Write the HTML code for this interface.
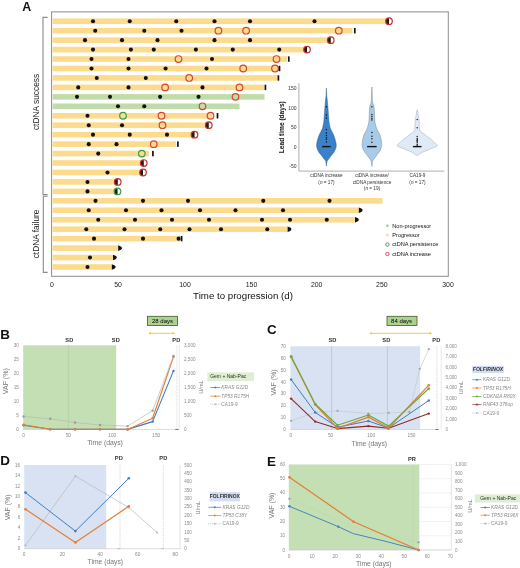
<!DOCTYPE html>
<html><head><meta charset="utf-8"><style>html,body{margin:0;padding:0;background:#fff;width:520px;height:568px;overflow:hidden;font-family:"Liberation Sans", sans-serif;}</style></head><body>
<svg width="520" height="568" viewBox="0 0 520 568" style="position:absolute;left:0;top:0;will-change:transform" font-family='"Liberation Sans", sans-serif'>
<rect x="0" y="0" width="520" height="568" fill="#fff"/>
<text x="22.3" y="11.2" font-size="12.4" font-weight="bold" fill="#111">A</text>
<rect x="51.6" y="11.9" width="396.7" height="264.4" fill="none" stroke="#8c8c8c" stroke-width="1"/>
<rect x="52.6" y="18.45" width="336.40" height="5.6" fill="#fcdb8c"/>
<rect x="52.6" y="27.90" width="299.90" height="5.6" fill="#fcdb8c"/>
<rect x="52.6" y="37.35" width="278.15" height="5.6" fill="#fcdb8c"/>
<rect x="52.6" y="46.81" width="254.40" height="5.6" fill="#fcdb8c"/>
<rect x="52.6" y="56.26" width="234.40" height="5.6" fill="#fcdb8c"/>
<rect x="52.6" y="65.71" width="225.40" height="5.6" fill="#fcdb8c"/>
<rect x="52.6" y="75.16" width="224.70" height="5.6" fill="#fcdb8c"/>
<rect x="52.6" y="84.61" width="211.40" height="5.6" fill="#fcdb8c"/>
<rect x="52.6" y="94.07" width="211.90" height="5.6" fill="#c0dcaa"/>
<rect x="52.6" y="103.52" width="186.90" height="5.6" fill="#c0dcaa"/>
<rect x="52.6" y="112.97" width="159.90" height="5.6" fill="#fcdb8c"/>
<rect x="52.6" y="122.42" width="156.15" height="5.6" fill="#fcdb8c"/>
<rect x="52.6" y="131.87" width="141.90" height="5.6" fill="#fcdb8c"/>
<rect x="52.6" y="141.33" width="123.40" height="5.6" fill="#fcdb8c"/>
<rect x="52.6" y="150.78" width="96.40" height="5.6" fill="#fcdb8c"/>
<rect x="52.6" y="160.23" width="91.15" height="5.6" fill="#fcdb8c"/>
<rect x="52.6" y="169.68" width="90.40" height="5.6" fill="#fcdb8c"/>
<rect x="52.6" y="179.13" width="65.15" height="5.6" fill="#fcdb8c"/>
<rect x="52.6" y="188.59" width="64.90" height="5.6" fill="#fcdb8c"/>
<rect x="52.6" y="198.04" width="329.90" height="5.6" fill="#fcdb8c"/>
<rect x="52.6" y="207.49" width="306.20" height="5.6" fill="#fcdb8c"/>
<rect x="52.6" y="216.94" width="302.40" height="5.6" fill="#fcdb8c"/>
<rect x="52.6" y="226.39" width="235.00" height="5.6" fill="#fcdb8c"/>
<rect x="52.6" y="235.85" width="127.40" height="5.6" fill="#fcdb8c"/>
<rect x="52.6" y="245.30" width="65.60" height="5.6" fill="#fcdb8c"/>
<rect x="52.6" y="254.75" width="60.40" height="5.6" fill="#fcdb8c"/>
<rect x="52.6" y="264.20" width="59.20" height="5.6" fill="#fcdb8c"/>
<circle cx="93" cy="21.25" r="2.05" fill="#111"/>
<circle cx="129.75" cy="21.25" r="2.05" fill="#111"/>
<circle cx="176.25" cy="21.25" r="2.05" fill="#111"/>
<circle cx="214.5" cy="21.25" r="2.05" fill="#111"/>
<circle cx="250" cy="21.25" r="2.05" fill="#111"/>
<circle cx="314.5" cy="21.25" r="2.05" fill="#111"/>
<path d="M389.00 18.15 A3.1 3.1 0 0 0 389.00 24.35 Z" fill="#1a1a1a"/>
<circle cx="389" cy="21.25" r="3.3" fill="none" stroke="#c2302c" stroke-width="1.2"/>
<circle cx="95.25" cy="30.70" r="2.05" fill="#111"/>
<circle cx="144.3" cy="30.70" r="2.05" fill="#111"/>
<circle cx="181.5" cy="30.70" r="2.05" fill="#111"/>
<circle cx="218.4" cy="30.70" r="3.3" fill="none" stroke="#d9452c" stroke-width="1.2"/>
<circle cx="246.1" cy="30.70" r="3.3" fill="none" stroke="#d9452c" stroke-width="1.2"/>
<circle cx="338.8" cy="30.70" r="3.3" fill="none" stroke="#d9452c" stroke-width="1.2"/>
<rect x="353.95" y="28.00" width="1.7" height="5.4" fill="#111"/>
<circle cx="85" cy="40.15" r="2.05" fill="#111"/>
<circle cx="122" cy="40.15" r="2.05" fill="#111"/>
<circle cx="157.5" cy="40.15" r="2.05" fill="#111"/>
<circle cx="214.5" cy="40.15" r="2.05" fill="#111"/>
<circle cx="250" cy="40.15" r="2.05" fill="#111"/>
<path d="M330.75 37.05 A3.1 3.1 0 0 0 330.75 43.25 Z" fill="#1a1a1a"/>
<circle cx="330.75" cy="40.15" r="3.3" fill="none" stroke="#c2302c" stroke-width="1.2"/>
<circle cx="93" cy="49.61" r="2.05" fill="#111"/>
<circle cx="130.9" cy="49.61" r="2.05" fill="#111"/>
<circle cx="153.75" cy="49.61" r="2.05" fill="#111"/>
<circle cx="195.9" cy="49.61" r="2.05" fill="#111"/>
<circle cx="232.75" cy="49.61" r="2.05" fill="#111"/>
<circle cx="279.25" cy="49.61" r="2.05" fill="#111"/>
<path d="M307.00 46.51 A3.1 3.1 0 0 0 307.00 52.71 Z" fill="#1a1a1a"/>
<circle cx="307" cy="49.61" r="3.3" fill="none" stroke="#c2302c" stroke-width="1.2"/>
<circle cx="91.5" cy="59.06" r="2.05" fill="#111"/>
<circle cx="128.5" cy="59.06" r="2.05" fill="#111"/>
<circle cx="212" cy="59.06" r="2.05" fill="#111"/>
<circle cx="178.5" cy="59.06" r="3.3" fill="none" stroke="#d9452c" stroke-width="1.2"/>
<circle cx="276.5" cy="59.06" r="3.3" fill="none" stroke="#d9452c" stroke-width="1.2"/>
<rect x="287.95" y="56.36" width="1.7" height="5.4" fill="#111"/>
<circle cx="91.5" cy="68.51" r="2.05" fill="#111"/>
<circle cx="128.5" cy="68.51" r="2.05" fill="#111"/>
<circle cx="165.6" cy="68.51" r="2.05" fill="#111"/>
<circle cx="206.5" cy="68.51" r="2.05" fill="#111"/>
<circle cx="243.2" cy="68.51" r="3.3" fill="none" stroke="#d9452c" stroke-width="1.2"/>
<circle cx="275" cy="68.51" r="3.3" fill="none" stroke="#d9452c" stroke-width="1.2"/>
<rect x="278.65" y="65.81" width="1.7" height="5.4" fill="#111"/>
<circle cx="96.75" cy="77.96" r="2.05" fill="#111"/>
<circle cx="145.8" cy="77.96" r="2.05" fill="#111"/>
<circle cx="189.2" cy="77.96" r="3.3" fill="none" stroke="#d9452c" stroke-width="1.2"/>
<rect x="277.55" y="75.26" width="1.7" height="5.4" fill="#111"/>
<circle cx="78.25" cy="87.41" r="2.05" fill="#111"/>
<circle cx="128.5" cy="87.41" r="2.05" fill="#111"/>
<circle cx="202.5" cy="87.41" r="2.05" fill="#111"/>
<circle cx="165.1" cy="87.41" r="3.3" fill="none" stroke="#d9452c" stroke-width="1.2"/>
<circle cx="239.5" cy="87.41" r="3.3" fill="none" stroke="#d9452c" stroke-width="1.2"/>
<rect x="264.55" y="84.71" width="1.7" height="5.4" fill="#111"/>
<circle cx="77" cy="96.87" r="2.05" fill="#111"/>
<circle cx="110" cy="96.87" r="2.05" fill="#111"/>
<circle cx="160.1" cy="96.87" r="2.05" fill="#111"/>
<circle cx="198.5" cy="96.87" r="2.05" fill="#111"/>
<circle cx="235.5" cy="96.87" r="3.3" fill="none" stroke="#d9452c" stroke-width="1.2"/>
<circle cx="118" cy="106.32" r="2.05" fill="#111"/>
<circle cx="144.25" cy="106.32" r="2.05" fill="#111"/>
<circle cx="202.5" cy="106.32" r="3.3" fill="none" stroke="#d9452c" stroke-width="1.2"/>
<circle cx="87.5" cy="115.77" r="2.05" fill="#111"/>
<circle cx="161.5" cy="115.77" r="3.3" fill="none" stroke="#d9452c" stroke-width="1.2"/>
<circle cx="210.5" cy="115.77" r="3.3" fill="none" stroke="#d9452c" stroke-width="1.2"/>
<circle cx="123" cy="115.77" r="3.3" fill="none" stroke="#3d9b45" stroke-width="1.2"/>
<rect x="216.65" y="113.07" width="1.7" height="5.4" fill="#111"/>
<circle cx="88.75" cy="125.22" r="2.05" fill="#111"/>
<circle cx="122" cy="125.22" r="2.05" fill="#111"/>
<circle cx="162.5" cy="125.22" r="3.3" fill="none" stroke="#d9452c" stroke-width="1.2"/>
<path d="M208.75 122.12 A3.1 3.1 0 0 0 208.75 128.32 Z" fill="#1a1a1a"/>
<circle cx="208.75" cy="125.22" r="3.3" fill="none" stroke="#c2302c" stroke-width="1.2"/>
<circle cx="93" cy="134.67" r="2.05" fill="#111"/>
<circle cx="129.75" cy="134.67" r="2.05" fill="#111"/>
<circle cx="167" cy="134.67" r="2.05" fill="#111"/>
<path d="M194.50 131.57 A3.1 3.1 0 0 0 194.50 137.77 Z" fill="#1a1a1a"/>
<circle cx="194.5" cy="134.67" r="3.3" fill="none" stroke="#c2302c" stroke-width="1.2"/>
<circle cx="88.75" cy="144.13" r="2.05" fill="#111"/>
<circle cx="116.5" cy="144.13" r="2.05" fill="#111"/>
<circle cx="153.75" cy="144.13" r="3.3" fill="none" stroke="#d9452c" stroke-width="1.2"/>
<rect x="177.05" y="141.43" width="1.7" height="5.4" fill="#111"/>
<circle cx="98.25" cy="153.58" r="2.05" fill="#111"/>
<circle cx="141.8" cy="153.58" r="3.3" fill="none" stroke="#3d9b45" stroke-width="1.2"/>
<rect x="152.05" y="150.88" width="1.7" height="5.4" fill="#111"/>
<path d="M143.75 159.93 A3.1 3.1 0 0 0 143.75 166.13 Z" fill="#1a1a1a"/>
<circle cx="143.75" cy="163.03" r="3.3" fill="none" stroke="#c2302c" stroke-width="1.2"/>
<circle cx="107.5" cy="172.48" r="2.05" fill="#111"/>
<path d="M143.00 169.38 A3.1 3.1 0 0 0 143.00 175.58 Z" fill="#1a1a1a"/>
<circle cx="143" cy="172.48" r="3.3" fill="none" stroke="#c2302c" stroke-width="1.2"/>
<circle cx="87.5" cy="181.93" r="2.05" fill="#111"/>
<path d="M117.75 178.83 A3.1 3.1 0 0 0 117.75 185.03 Z" fill="#1a1a1a"/>
<circle cx="117.75" cy="181.93" r="3.3" fill="none" stroke="#c2302c" stroke-width="1.2"/>
<circle cx="87.5" cy="191.39" r="2.05" fill="#111"/>
<path d="M117.50 188.29 A3.1 3.1 0 0 0 117.50 194.49 Z" fill="#1a1a1a"/>
<circle cx="117.5" cy="191.39" r="3.3" fill="none" stroke="#3d9b45" stroke-width="1.2"/>
<circle cx="95.5" cy="200.84" r="2.05" fill="#111"/>
<circle cx="143" cy="200.84" r="2.05" fill="#111"/>
<circle cx="188" cy="200.84" r="2.05" fill="#111"/>
<circle cx="263.25" cy="200.84" r="2.05" fill="#111"/>
<circle cx="329.5" cy="200.84" r="2.05" fill="#111"/>
<circle cx="88.75" cy="210.29" r="2.05" fill="#111"/>
<circle cx="126" cy="210.29" r="2.05" fill="#111"/>
<circle cx="161.5" cy="210.29" r="2.05" fill="#111"/>
<circle cx="200" cy="210.29" r="2.05" fill="#111"/>
<circle cx="235.5" cy="210.29" r="2.05" fill="#111"/>
<circle cx="283" cy="210.29" r="2.05" fill="#111"/>
<path d="M358.80 207.49 L361.40 208.59 Q363.80 210.29 361.40 211.99 L358.80 213.09 Z" fill="#111"/>
<circle cx="98.25" cy="219.74" r="2.05" fill="#111"/>
<circle cx="135" cy="219.74" r="2.05" fill="#111"/>
<circle cx="172" cy="219.74" r="2.05" fill="#111"/>
<circle cx="209" cy="219.74" r="2.05" fill="#111"/>
<circle cx="262" cy="219.74" r="2.05" fill="#111"/>
<circle cx="290" cy="219.74" r="2.05" fill="#111"/>
<circle cx="326.75" cy="219.74" r="2.05" fill="#111"/>
<path d="M355.00 216.94 L357.60 218.04 Q360.00 219.74 357.60 221.44 L355.00 222.54 Z" fill="#111"/>
<circle cx="86.25" cy="229.19" r="2.05" fill="#111"/>
<circle cx="124.5" cy="229.19" r="2.05" fill="#111"/>
<circle cx="160.25" cy="229.19" r="2.05" fill="#111"/>
<circle cx="189.5" cy="229.19" r="2.05" fill="#111"/>
<circle cx="221" cy="229.19" r="2.05" fill="#111"/>
<circle cx="267.25" cy="229.19" r="2.05" fill="#111"/>
<path d="M287.60 226.39 L290.20 227.49 Q292.60 229.19 290.20 230.89 L287.60 231.99 Z" fill="#111"/>
<circle cx="94" cy="238.65" r="2.05" fill="#111"/>
<circle cx="143" cy="238.65" r="2.05" fill="#111"/>
<circle cx="178.6" cy="238.65" r="2.05" fill="#111"/>
<rect x="180.75" y="235.95" width="1.7" height="5.4" fill="#111"/>
<path d="M118.20 245.30 L120.80 246.40 Q123.20 248.10 120.80 249.80 L118.20 250.90 Z" fill="#111"/>
<circle cx="90" cy="257.55" r="2.05" fill="#111"/>
<path d="M113.00 254.75 L115.60 255.85 Q118.00 257.55 115.60 259.25 L113.00 260.35 Z" fill="#111"/>
<circle cx="87.5" cy="267.00" r="2.05" fill="#111"/>
<path d="M111.80 264.20 L114.40 265.30 Q116.80 267.00 114.40 268.70 L111.80 269.80 Z" fill="#111"/>
<path d="M47.6 17.4 H43 V194.6 H47.6" fill="none" stroke="#8a8a8a" stroke-width="1.1"/>
<path d="M47.6 196.3 H43.3 V272.4 H47.6" fill="none" stroke="#8a8a8a" stroke-width="1.1"/>
<text x="35.90" y="104.79" font-size="8.4" fill="#222" text-anchor="middle" font-weight="normal" font-style="normal" transform="rotate(-90 35.90 101.90)">ctDNA success</text>
<text x="36.20" y="236.79" font-size="8.4" fill="#222" text-anchor="middle" font-weight="normal" font-style="normal" transform="rotate(-90 36.20 233.90)">ctDNA failure</text>
<text x="52.00" y="287.07" font-size="6.9" fill="#222" text-anchor="middle" font-weight="normal" font-style="normal">0</text>
<text x="118.00" y="287.07" font-size="6.9" fill="#222" text-anchor="middle" font-weight="normal" font-style="normal">50</text>
<text x="185.00" y="287.07" font-size="6.9" fill="#222" text-anchor="middle" font-weight="normal" font-style="normal">100</text>
<text x="251.50" y="287.07" font-size="6.9" fill="#222" text-anchor="middle" font-weight="normal" font-style="normal">150</text>
<text x="316.70" y="287.07" font-size="6.9" fill="#222" text-anchor="middle" font-weight="normal" font-style="normal">200</text>
<text x="381.80" y="287.07" font-size="6.9" fill="#222" text-anchor="middle" font-weight="normal" font-style="normal">250</text>
<text x="448.00" y="287.07" font-size="6.9" fill="#222" text-anchor="middle" font-weight="normal" font-style="normal">300</text>
<text x="243.00" y="299.44" font-size="9.7" fill="#111" text-anchor="middle" font-weight="normal" font-style="normal">Time to progression (d)</text>
<circle cx="387.4" cy="225.8" r="1.5" fill="#b5cfa6"/>
<text x="392.30" y="227.73" font-size="5.6" fill="#111" text-anchor="start" font-weight="normal" font-style="normal">Non-progressor</text>
<circle cx="387.4" cy="235.1" r="1.5" fill="#efe2b0"/>
<text x="392.30" y="237.03" font-size="5.6" fill="#111" text-anchor="start" font-weight="normal" font-style="normal">Progressor</text>
<circle cx="387.4" cy="244.5" r="1.7" fill="none" stroke="#3d9b45" stroke-width="0.9"/>
<text x="392.30" y="246.43" font-size="5.6" fill="#111" text-anchor="start" font-weight="normal" font-style="normal">ctDNA persistence</text>
<circle cx="387.4" cy="254" r="1.7" fill="none" stroke="#e03c4c" stroke-width="0.9"/>
<text x="392.30" y="255.93" font-size="5.6" fill="#111" text-anchor="start" font-weight="normal" font-style="normal">ctDNA increase</text>
<line x1="298.9" y1="83.3" x2="298.9" y2="171.1" stroke="#9a9a9a" stroke-width="0.8"/>
<line x1="299" y1="171.1" x2="444.3" y2="171.1" stroke="#9a9a9a" stroke-width="0.8"/>
<text x="296.60" y="90.22" font-size="5.0" fill="#333" text-anchor="end" font-weight="normal" font-style="normal">150</text>
<text x="296.60" y="109.52" font-size="5.0" fill="#333" text-anchor="end" font-weight="normal" font-style="normal">100</text>
<text x="296.60" y="128.92" font-size="5.0" fill="#333" text-anchor="end" font-weight="normal" font-style="normal">50</text>
<text x="296.60" y="148.62" font-size="5.0" fill="#333" text-anchor="end" font-weight="normal" font-style="normal">0</text>
<text x="296.60" y="168.02" font-size="5.0" fill="#333" text-anchor="end" font-weight="normal" font-style="normal">-50</text>
<text x="282.20" y="129.47" font-size="6.6" fill="#111" text-anchor="middle" font-weight="bold" font-style="normal" transform="rotate(-90 282.20 127.20)">Lead time (days)</text>
<polygon points="326.40,88.00 326.37,88.66 326.34,89.31 326.31,89.97 326.29,90.62 326.26,91.28 326.23,91.93 326.20,92.59 326.17,93.24 326.14,93.90 326.11,94.55 326.08,95.21 326.06,95.87 325.98,96.52 325.89,97.18 325.81,97.83 325.72,98.49 325.64,99.14 325.58,99.80 325.51,100.45 325.45,101.11 325.39,101.76 325.33,102.42 325.27,103.08 325.21,103.73 325.15,104.39 325.08,105.04 325.02,105.70 324.96,106.35 324.90,107.01 324.85,107.66 324.81,108.32 324.76,108.97 324.71,109.63 324.67,110.29 324.62,110.94 324.57,111.60 324.52,112.25 324.48,112.91 324.43,113.56 324.38,114.22 324.33,114.87 324.29,115.53 324.24,116.18 324.19,116.84 324.14,117.50 324.09,118.15 324.04,118.81 323.99,119.46 323.94,120.12 323.89,120.77 323.84,121.43 323.78,122.08 323.65,122.74 323.52,123.39 323.39,124.05 323.26,124.71 323.13,125.36 323.00,126.02 322.87,126.67 322.73,127.33 322.60,127.98 322.30,128.64 322.00,129.29 321.69,129.95 321.38,130.61 321.06,131.26 320.71,131.92 320.36,132.57 320.01,133.23 319.66,133.88 319.38,134.54 319.12,135.19 318.86,135.85 318.60,136.50 318.35,137.16 318.16,137.82 317.96,138.47 317.76,139.13 317.57,139.78 317.40,140.44 317.25,141.09 317.09,141.75 316.94,142.40 316.79,143.06 316.71,143.71 316.64,144.37 316.56,145.03 316.53,145.68 316.63,146.34 316.74,146.99 316.84,147.65 317.02,148.30 317.28,148.96 317.55,149.61 317.81,150.27 318.07,150.92 318.48,151.58 318.90,152.24 319.33,152.89 319.86,153.55 320.42,154.20 320.98,154.86 321.48,155.51 321.98,156.17 322.47,156.82 322.96,157.48 323.45,158.13 323.94,158.79 324.49,159.45 325.05,160.10 325.49,160.76 325.73,161.41 325.96,162.07 326.03,162.72 326.11,163.38 326.18,164.03 326.25,164.69 326.33,165.34 326.40,166.00 326.40,166.00 326.47,165.34 326.55,164.69 326.62,164.03 326.69,163.38 326.77,162.72 326.84,162.07 327.07,161.41 327.31,160.76 327.75,160.10 328.31,159.45 328.86,158.79 329.35,158.13 329.84,157.48 330.33,156.82 330.82,156.17 331.32,155.51 331.82,154.86 332.38,154.20 332.94,153.55 333.47,152.89 333.90,152.24 334.32,151.58 334.73,150.92 334.99,150.27 335.25,149.61 335.52,148.96 335.78,148.30 335.96,147.65 336.06,146.99 336.17,146.34 336.27,145.68 336.24,145.03 336.16,144.37 336.09,143.71 336.01,143.06 335.86,142.40 335.71,141.75 335.55,141.09 335.40,140.44 335.23,139.78 335.04,139.13 334.84,138.47 334.64,137.82 334.45,137.16 334.20,136.50 333.94,135.85 333.68,135.19 333.42,134.54 333.14,133.88 332.79,133.23 332.44,132.57 332.09,131.92 331.74,131.26 331.42,130.61 331.11,129.95 330.80,129.29 330.50,128.64 330.20,127.98 330.07,127.33 329.93,126.67 329.80,126.02 329.67,125.36 329.54,124.71 329.41,124.05 329.28,123.39 329.15,122.74 329.02,122.08 328.96,121.43 328.91,120.77 328.86,120.12 328.81,119.46 328.76,118.81 328.71,118.15 328.66,117.50 328.61,116.84 328.56,116.18 328.51,115.53 328.47,114.87 328.42,114.22 328.37,113.56 328.32,112.91 328.28,112.25 328.23,111.60 328.18,110.94 328.13,110.29 328.09,109.63 328.04,108.97 327.99,108.32 327.95,107.66 327.90,107.01 327.84,106.35 327.78,105.70 327.72,105.04 327.65,104.39 327.59,103.73 327.53,103.08 327.47,102.42 327.41,101.76 327.35,101.11 327.29,100.45 327.22,99.80 327.16,99.14 327.08,98.49 326.99,97.83 326.91,97.18 326.82,96.52 326.74,95.87 326.72,95.21 326.69,94.55 326.66,93.90 326.63,93.24 326.60,92.59 326.57,91.93 326.54,91.28 326.51,90.62 326.49,89.97 326.46,89.31 326.43,88.66 326.40,88.00" fill="#3b81c7" stroke="#2c5f96" stroke-width="0.5" stroke-linejoin="round"/>
<polygon points="371.90,87.00 371.87,87.67 371.84,88.34 371.81,89.00 371.78,89.67 371.75,90.34 371.72,91.01 371.70,91.68 371.67,92.34 371.64,93.01 371.61,93.68 371.58,94.35 371.55,95.02 371.53,95.68 371.50,96.35 371.48,97.02 371.45,97.69 371.43,98.36 371.41,99.03 371.38,99.69 371.36,100.36 371.33,101.03 371.31,101.70 371.19,102.37 370.99,103.03 370.79,103.70 370.55,104.37 370.28,105.04 370.06,105.71 369.93,106.37 369.79,107.04 369.66,107.71 369.58,108.38 369.55,109.05 369.51,109.71 369.48,110.38 369.45,111.05 369.41,111.72 369.38,112.39 369.35,113.05 369.31,113.72 369.28,114.39 369.25,115.06 369.21,115.73 369.18,116.39 369.15,117.06 369.11,117.73 369.08,118.40 369.05,119.07 369.01,119.74 368.98,120.40 368.95,121.07 368.91,121.74 368.80,122.41 368.63,123.08 368.46,123.74 368.30,124.41 368.13,125.08 367.96,125.75 367.80,126.42 367.63,127.08 367.46,127.75 367.19,128.42 366.86,129.09 366.52,129.76 366.19,130.42 365.85,131.09 365.49,131.76 365.14,132.43 364.78,133.10 364.43,133.76 364.16,134.43 363.93,135.10 363.71,135.77 363.49,136.44 363.27,137.11 363.09,137.77 362.92,138.44 362.74,139.11 362.56,139.78 362.46,140.45 362.40,141.11 362.34,141.78 362.28,142.45 362.22,143.12 362.16,143.79 362.10,144.45 362.17,145.12 362.25,145.79 362.33,146.46 362.44,147.13 362.65,147.79 362.87,148.46 363.08,149.13 363.41,149.80 363.76,150.47 364.11,151.13 364.52,151.80 365.01,152.47 365.49,153.14 365.98,153.81 366.47,154.47 366.97,155.14 367.46,155.81 367.95,156.48 368.43,157.15 368.92,157.82 369.41,158.48 369.90,159.15 370.40,159.82 370.89,160.49 371.14,161.16 371.39,161.82 371.50,162.49 371.57,163.16 371.63,163.83 371.70,164.50 371.77,165.16 371.83,165.83 371.90,166.50 371.90,166.50 371.97,165.83 372.03,165.16 372.10,164.50 372.17,163.83 372.23,163.16 372.30,162.49 372.41,161.82 372.66,161.16 372.91,160.49 373.40,159.82 373.90,159.15 374.39,158.48 374.88,157.82 375.37,157.15 375.85,156.48 376.34,155.81 376.83,155.14 377.33,154.47 377.82,153.81 378.31,153.14 378.79,152.47 379.28,151.80 379.69,151.13 380.04,150.47 380.39,149.80 380.72,149.13 380.93,148.46 381.15,147.79 381.36,147.13 381.47,146.46 381.55,145.79 381.63,145.12 381.70,144.45 381.64,143.79 381.58,143.12 381.52,142.45 381.46,141.78 381.40,141.11 381.34,140.45 381.24,139.78 381.06,139.11 380.88,138.44 380.71,137.77 380.53,137.11 380.31,136.44 380.09,135.77 379.87,135.10 379.64,134.43 379.37,133.76 379.02,133.10 378.66,132.43 378.31,131.76 377.95,131.09 377.61,130.42 377.28,129.76 376.94,129.09 376.61,128.42 376.34,127.75 376.17,127.08 376.00,126.42 375.84,125.75 375.67,125.08 375.50,124.41 375.34,123.74 375.17,123.08 375.00,122.41 374.89,121.74 374.85,121.07 374.82,120.40 374.79,119.74 374.75,119.07 374.72,118.40 374.69,117.73 374.65,117.06 374.62,116.39 374.59,115.73 374.55,115.06 374.52,114.39 374.49,113.72 374.45,113.05 374.42,112.39 374.39,111.72 374.35,111.05 374.32,110.38 374.29,109.71 374.25,109.05 374.22,108.38 374.14,107.71 374.01,107.04 373.87,106.37 373.74,105.71 373.52,105.04 373.25,104.37 373.01,103.70 372.81,103.03 372.61,102.37 372.49,101.70 372.47,101.03 372.44,100.36 372.42,99.69 372.39,99.03 372.37,98.36 372.35,97.69 372.32,97.02 372.30,96.35 372.27,95.68 372.25,95.02 372.22,94.35 372.19,93.68 372.16,93.01 372.13,92.34 372.10,91.68 372.08,91.01 372.05,90.34 372.02,89.67 371.99,89.00 371.96,88.34 371.93,87.67 371.90,87.00" fill="#a8cbe9" stroke="#6f8296" stroke-width="0.5" stroke-linejoin="round"/>
<polygon points="417.20,109.80 417.11,110.19 417.02,110.57 416.94,110.96 416.85,111.35 416.76,111.73 416.68,112.12 416.61,112.51 416.53,112.89 416.46,113.28 416.39,113.67 416.32,114.05 416.25,114.44 416.18,114.83 416.10,115.21 416.03,115.60 415.96,115.98 415.89,116.37 415.81,116.76 415.74,117.14 415.67,117.53 415.60,117.92 415.52,118.30 415.45,118.69 415.38,119.08 415.31,119.46 415.29,119.85 415.27,120.24 415.25,120.62 415.24,121.01 415.22,121.40 415.21,121.78 415.19,122.17 415.18,122.56 415.16,122.94 415.14,123.33 415.13,123.72 415.11,124.10 415.09,124.49 415.07,124.88 415.05,125.26 415.02,125.65 415.00,126.04 414.97,126.42 414.95,126.81 414.93,127.19 414.90,127.58 414.88,127.97 414.85,128.35 414.83,128.74 414.80,129.13 414.70,129.51 414.57,129.90 414.44,130.29 414.31,130.67 414.15,131.06 413.83,131.45 413.52,131.83 413.12,132.22 412.53,132.61 411.94,132.99 411.35,133.38 410.76,133.77 410.21,134.15 409.72,134.54 409.23,134.93 408.74,135.31 408.25,135.70 407.76,136.09 407.27,136.47 406.78,136.86 406.26,137.25 405.72,137.63 405.18,138.02 404.64,138.41 404.10,138.79 403.57,139.18 403.03,139.56 402.55,139.95 402.18,140.34 401.81,140.72 401.43,141.11 401.06,141.50 400.69,141.88 400.31,142.27 399.94,142.66 399.51,143.04 399.04,143.43 398.57,143.82 398.10,144.20 397.64,144.59 397.17,144.98 397.01,145.36 397.28,145.75 397.56,146.14 398.31,146.52 399.17,146.91 400.03,147.30 400.90,147.68 401.85,148.07 402.80,148.46 403.75,148.84 404.70,149.23 405.65,149.62 406.60,150.00 407.54,150.39 408.47,150.77 409.41,151.16 410.34,151.55 411.27,151.93 412.21,152.32 412.85,152.71 413.41,153.09 413.97,153.48 414.53,153.87 415.09,154.25 415.63,154.64 416.15,155.03 416.68,155.41 417.20,155.80 417.20,155.80 417.72,155.41 418.25,155.03 418.77,154.64 419.31,154.25 419.87,153.87 420.43,153.48 420.99,153.09 421.55,152.71 422.19,152.32 423.13,151.93 424.06,151.55 424.99,151.16 425.93,150.77 426.86,150.39 427.80,150.00 428.75,149.62 429.70,149.23 430.65,148.84 431.60,148.46 432.55,148.07 433.50,147.68 434.37,147.30 435.23,146.91 436.09,146.52 436.84,146.14 437.12,145.75 437.39,145.36 437.23,144.98 436.76,144.59 436.30,144.20 435.83,143.82 435.36,143.43 434.89,143.04 434.46,142.66 434.09,142.27 433.71,141.88 433.34,141.50 432.97,141.11 432.59,140.72 432.22,140.34 431.85,139.95 431.37,139.56 430.83,139.18 430.30,138.79 429.76,138.41 429.22,138.02 428.68,137.63 428.14,137.25 427.62,136.86 427.13,136.47 426.64,136.09 426.15,135.70 425.66,135.31 425.17,134.93 424.68,134.54 424.19,134.15 423.64,133.77 423.05,133.38 422.46,132.99 421.87,132.61 421.28,132.22 420.88,131.83 420.57,131.45 420.25,131.06 420.09,130.67 419.96,130.29 419.83,129.90 419.70,129.51 419.60,129.13 419.57,128.74 419.55,128.35 419.52,127.97 419.50,127.58 419.47,127.19 419.45,126.81 419.43,126.42 419.40,126.04 419.38,125.65 419.35,125.26 419.33,124.88 419.31,124.49 419.29,124.10 419.27,123.72 419.26,123.33 419.24,122.94 419.22,122.56 419.21,122.17 419.19,121.78 419.18,121.40 419.16,121.01 419.15,120.62 419.13,120.24 419.11,119.85 419.09,119.46 419.02,119.08 418.95,118.69 418.88,118.30 418.80,117.92 418.73,117.53 418.66,117.14 418.59,116.76 418.51,116.37 418.44,115.98 418.37,115.60 418.30,115.21 418.22,114.83 418.15,114.44 418.08,114.05 418.01,113.67 417.94,113.28 417.87,112.89 417.79,112.51 417.72,112.12 417.64,111.73 417.55,111.35 417.46,110.96 417.38,110.57 417.29,110.19 417.20,109.80" fill="#e0eaf7" stroke="#9aa2ae" stroke-width="0.5" stroke-linejoin="round"/>
<circle cx="326.4" cy="106.7" r="0.7" fill="#111"/>
<circle cx="326.4" cy="115" r="0.7" fill="#111"/>
<circle cx="326.4" cy="118" r="0.7" fill="#111"/>
<circle cx="326.4" cy="129.5" r="0.7" fill="#111"/>
<circle cx="326.4" cy="133" r="0.7" fill="#111"/>
<circle cx="326.4" cy="135.5" r="0.7" fill="#111"/>
<circle cx="326.4" cy="137.8" r="0.7" fill="#111"/>
<circle cx="326.4" cy="139.3" r="0.7" fill="#111"/>
<circle cx="326.4" cy="142" r="0.7" fill="#111"/>
<circle cx="371.9" cy="106.7" r="0.7" fill="#111"/>
<circle cx="371.9" cy="114.5" r="0.7" fill="#111"/>
<circle cx="371.9" cy="116.5" r="0.7" fill="#111"/>
<circle cx="371.9" cy="118.5" r="0.7" fill="#111"/>
<circle cx="371.9" cy="120" r="0.7" fill="#111"/>
<circle cx="371.9" cy="132.5" r="0.7" fill="#111"/>
<circle cx="371.9" cy="136.3" r="0.7" fill="#111"/>
<circle cx="371.9" cy="138.8" r="0.7" fill="#111"/>
<circle cx="371.9" cy="142.3" r="0.7" fill="#111"/>
<circle cx="417.2" cy="119.5" r="0.7" fill="#111"/>
<circle cx="417.2" cy="127.7" r="0.7" fill="#111"/>
<circle cx="417.2" cy="136.5" r="0.7" fill="#111"/>
<circle cx="417.2" cy="138.4" r="0.7" fill="#111"/>
<circle cx="417.2" cy="139.5" r="0.7" fill="#111"/>
<circle cx="417.2" cy="140.5" r="0.7" fill="#111"/>
<circle cx="417.2" cy="141.3" r="0.7" fill="#111"/>
<circle cx="417.2" cy="142.3" r="0.7" fill="#111"/>
<rect x="322.15" y="145.9" width="8.5" height="1.4" fill="#111"/>
<rect x="367.15" y="145.9" width="9.5" height="1.4" fill="#111"/>
<rect x="412.90" y="145.9" width="8.6" height="1.4" fill="#111"/>
<rect x="416.6" y="143.6" width="1.2" height="3" fill="#111"/>
<text x="326.50" y="177.42" font-size="4.7" fill="#333" text-anchor="middle" font-weight="normal" font-style="normal">ctDNA increase</text>
<text x="326.50" y="183.52" font-size="4.7" fill="#333" text-anchor="middle" font-weight="normal" font-style="normal">(<tspan font-style="italic">n</tspan> = 17)</text>
<text x="372.00" y="177.42" font-size="4.7" fill="#333" text-anchor="middle" font-weight="normal" font-style="normal">ctDNA increase/</text>
<text x="372.00" y="183.52" font-size="4.7" fill="#333" text-anchor="middle" font-weight="normal" font-style="normal">ctDNA persistence</text>
<text x="372.00" y="189.62" font-size="4.7" fill="#333" text-anchor="middle" font-weight="normal" font-style="normal">(<tspan font-style="italic">n</tspan> = 19)</text>
<text x="417.50" y="177.42" font-size="4.7" fill="#333" text-anchor="middle" font-weight="normal" font-style="normal">CA19-9</text>
<text x="417.50" y="183.52" font-size="4.7" fill="#333" text-anchor="middle" font-weight="normal" font-style="normal">(<tspan font-style="italic">n</tspan> = 17)</text>
<text x="0.30" y="339.41" font-size="13.4" fill="#111" text-anchor="start" font-weight="bold" font-style="normal">B</text>
<rect x="23.2" y="345.3" width="93.0" height="84.2" fill="#c4dfb3"/>
<line x1="68.4" y1="345.3" x2="68.4" y2="429.5" stroke="#b2cca3" stroke-width="0.7"/>
<line x1="23.2" y1="429.5" x2="179" y2="429.5" stroke="#c8c8c8" stroke-width="0.6"/>
<text x="18.80" y="347.08" font-size="4.6" fill="#8a8a8a" text-anchor="end" font-weight="normal" font-style="normal">30</text>
<text x="18.80" y="361.00" font-size="4.6" fill="#8a8a8a" text-anchor="end" font-weight="normal" font-style="normal">25</text>
<text x="18.80" y="374.92" font-size="4.6" fill="#8a8a8a" text-anchor="end" font-weight="normal" font-style="normal">20</text>
<text x="18.80" y="388.84" font-size="4.6" fill="#8a8a8a" text-anchor="end" font-weight="normal" font-style="normal">15</text>
<text x="18.80" y="402.76" font-size="4.6" fill="#8a8a8a" text-anchor="end" font-weight="normal" font-style="normal">10</text>
<text x="18.80" y="416.68" font-size="4.6" fill="#8a8a8a" text-anchor="end" font-weight="normal" font-style="normal">5</text>
<text x="18.80" y="430.60" font-size="4.6" fill="#8a8a8a" text-anchor="end" font-weight="normal" font-style="normal">0</text>
<text x="23.50" y="436.85" font-size="4.8" fill="#8a8a8a" text-anchor="middle" font-weight="normal" font-style="normal">0</text>
<text x="68.30" y="436.85" font-size="4.8" fill="#8a8a8a" text-anchor="middle" font-weight="normal" font-style="normal">50</text>
<text x="112.30" y="436.85" font-size="4.8" fill="#8a8a8a" text-anchor="middle" font-weight="normal" font-style="normal">100</text>
<text x="156.30" y="436.85" font-size="4.8" fill="#8a8a8a" text-anchor="middle" font-weight="normal" font-style="normal">150</text>
<text x="105.00" y="445.34" font-size="6.8" fill="#777" text-anchor="middle" font-weight="normal" font-style="normal">Time (days)</text>
<text x="5.20" y="383.61" font-size="7.0" fill="#777" text-anchor="middle" font-weight="normal" font-style="normal" transform="rotate(-90 5.20 381.20)">VAF (%)</text>
<text x="69.30" y="341.56" font-size="5.7" fill="#333" text-anchor="middle" font-weight="bold" font-style="normal">SD</text>
<text x="115.80" y="341.56" font-size="5.7" fill="#333" text-anchor="middle" font-weight="bold" font-style="normal">SD</text>
<text x="176.30" y="341.56" font-size="5.7" fill="#333" text-anchor="middle" font-weight="bold" font-style="normal">PD</text>
<line x1="176.9" y1="345.3" x2="176.9" y2="429.5" stroke="#bbb" stroke-width="0.7" stroke-dasharray="0.8 1"/>
<line x1="179.3" y1="345.3" x2="179.3" y2="429.5" stroke="#d6d6d6" stroke-width="0.6"/>
<rect x="175.3" y="429.0" width="3.2" height="1.0" fill="#777"/>
<rect x="147.5" y="316.3" width="30" height="9.3" fill="#acd290" stroke="#3f5a2e" stroke-width="0.8"/>
<text x="162.50" y="323.26" font-size="6.0" fill="#000" text-anchor="middle" font-weight="normal" font-style="normal">28 days</text>
<line x1="149.5" y1="333.3" x2="173.8" y2="333.3" stroke="#edc63a" stroke-width="0.9"/>
<path d="M148.5 333.3 l2.2 -1.5 v3 z M174.8 333.3 l-2.2 -1.5 v3 z" fill="#edc63a"/>
<text x="184.00" y="347.08" font-size="4.6" fill="#8a8a8a" text-anchor="start" font-weight="normal" font-style="normal">3,000</text>
<text x="184.00" y="361.00" font-size="4.6" fill="#8a8a8a" text-anchor="start" font-weight="normal" font-style="normal">2,500</text>
<text x="184.00" y="374.92" font-size="4.6" fill="#8a8a8a" text-anchor="start" font-weight="normal" font-style="normal">2,000</text>
<text x="184.00" y="388.84" font-size="4.6" fill="#8a8a8a" text-anchor="start" font-weight="normal" font-style="normal">1,500</text>
<text x="184.00" y="402.76" font-size="4.6" fill="#8a8a8a" text-anchor="start" font-weight="normal" font-style="normal">1,000</text>
<text x="184.00" y="416.68" font-size="4.6" fill="#8a8a8a" text-anchor="start" font-weight="normal" font-style="normal">500</text>
<text x="184.00" y="430.60" font-size="4.6" fill="#8a8a8a" text-anchor="start" font-weight="normal" font-style="normal">0</text>
<text x="200.80" y="388.93" font-size="5.6" fill="#777" text-anchor="middle" font-weight="normal" font-style="normal" transform="rotate(-90 200.80 387.00)">U/mL</text>
<polyline points="23.60,425.20 50.20,429.30 75.00,429.30 100.00,429.30 127.60,429.40 152.60,421.60 173.50,370.90" fill="none" stroke="#3f7cc4" stroke-width="1.1" stroke-linejoin="round" opacity="1"/>
<circle cx="23.60" cy="425.20" r="1.2" fill="#3f7cc4" opacity="1"/>
<circle cx="50.20" cy="429.30" r="1.2" fill="#3f7cc4" opacity="1"/>
<circle cx="75.00" cy="429.30" r="1.2" fill="#3f7cc4" opacity="1"/>
<circle cx="100.00" cy="429.30" r="1.2" fill="#3f7cc4" opacity="1"/>
<circle cx="127.60" cy="429.40" r="1.2" fill="#3f7cc4" opacity="1"/>
<circle cx="152.60" cy="421.60" r="1.2" fill="#3f7cc4" opacity="1"/>
<circle cx="173.50" cy="370.90" r="1.2" fill="#3f7cc4" opacity="1"/>
<polyline points="23.60,424.80 50.20,429.30 75.00,429.30 100.00,429.30 127.60,429.40 152.60,418.30 173.50,356.70" fill="none" stroke="#e57d32" stroke-width="1.1" stroke-linejoin="round" opacity="1"/>
<circle cx="23.60" cy="424.80" r="1.3" fill="#e57d32" opacity="1"/>
<circle cx="50.20" cy="429.30" r="1.3" fill="#e57d32" opacity="1"/>
<circle cx="75.00" cy="429.30" r="1.3" fill="#e57d32" opacity="1"/>
<circle cx="100.00" cy="429.30" r="1.3" fill="#e57d32" opacity="1"/>
<circle cx="127.60" cy="429.40" r="1.3" fill="#e57d32" opacity="1"/>
<circle cx="152.60" cy="418.30" r="1.3" fill="#e57d32" opacity="1"/>
<circle cx="173.50" cy="356.70" r="1.3" fill="#e57d32" opacity="1"/>
<polyline points="23.60,416.50 50.20,418.80 75.00,422.50 100.00,425.00 127.60,426.10 152.60,410.60 173.50,356.00" fill="none" stroke="#b8b8b8" stroke-width="0.7" stroke-linejoin="round" opacity="1"/>
<circle cx="23.60" cy="416.50" r="1.2" fill="#9a9a9a" opacity="1"/>
<circle cx="50.20" cy="418.80" r="1.2" fill="#9a9a9a" opacity="1"/>
<circle cx="75.00" cy="422.50" r="1.2" fill="#9a9a9a" opacity="1"/>
<circle cx="100.00" cy="425.00" r="1.2" fill="#9a9a9a" opacity="1"/>
<circle cx="127.60" cy="426.10" r="1.2" fill="#9a9a9a" opacity="1"/>
<circle cx="152.60" cy="410.60" r="1.2" fill="#9a9a9a" opacity="1"/>
<circle cx="173.50" cy="356.00" r="1.2" fill="#9a9a9a" opacity="1"/>
<rect x="207.4" y="372.4" width="46.6" height="8.6" fill="#dfedd4"/>
<text x="228.20" y="378.42" font-size="5.0" fill="#2a3322" text-anchor="middle" font-weight="normal" font-style="normal">Gem + Nab-Pac</text>
<line x1="210.4" y1="387.5" x2="220.4" y2="387.5" stroke="#3f7cc4" stroke-width="0.9" opacity="0.8"/>
<circle cx="215.40" cy="387.5" r="1.05" fill="#3f7cc4" opacity="0.9"/>
<text x="221.30" y="389.15" font-size="4.8" fill="#888" text-anchor="start" font-weight="normal" font-style="italic">KRAS G12D</text>
<line x1="210.4" y1="396.2" x2="220.4" y2="396.2" stroke="#e57d32" stroke-width="0.9" opacity="0.8"/>
<circle cx="215.40" cy="396.2" r="1.05" fill="#e57d32" opacity="0.9"/>
<text x="221.30" y="397.85" font-size="4.8" fill="#888" text-anchor="start" font-weight="normal" font-style="italic">TP53 R175H</text>
<line x1="210.4" y1="404.2" x2="220.4" y2="404.2" stroke="#b8b8b8" stroke-width="0.9" stroke-dasharray="1 0.8" opacity="0.8"/>
<circle cx="215.40" cy="404.2" r="1.05" fill="#b8b8b8" opacity="0.9"/>
<text x="221.30" y="405.85" font-size="4.8" fill="#888" text-anchor="start" font-weight="normal" font-style="normal">CA19-9</text>
<text x="266.90" y="333.81" font-size="13.4" fill="#111" text-anchor="start" font-weight="bold" font-style="normal">C</text>
<rect x="290.4" y="346.2" width="129.7" height="83.3" fill="#d9e2f3"/>
<line x1="331.6" y1="346.2" x2="331.6" y2="429.5" stroke="#b3bfd4" stroke-width="0.7"/>
<line x1="387.4" y1="346.2" x2="387.4" y2="429.5" stroke="#b3bfd4" stroke-width="0.7"/>
<line x1="290.4" y1="429.5" x2="439" y2="429.5" stroke="#c8c8c8" stroke-width="0.6"/>
<text x="285.80" y="347.88" font-size="4.6" fill="#8a8a8a" text-anchor="end" font-weight="normal" font-style="normal">70</text>
<text x="285.80" y="359.77" font-size="4.6" fill="#8a8a8a" text-anchor="end" font-weight="normal" font-style="normal">60</text>
<text x="285.80" y="371.66" font-size="4.6" fill="#8a8a8a" text-anchor="end" font-weight="normal" font-style="normal">50</text>
<text x="285.80" y="383.55" font-size="4.6" fill="#8a8a8a" text-anchor="end" font-weight="normal" font-style="normal">40</text>
<text x="285.80" y="395.44" font-size="4.6" fill="#8a8a8a" text-anchor="end" font-weight="normal" font-style="normal">30</text>
<text x="285.80" y="407.33" font-size="4.6" fill="#8a8a8a" text-anchor="end" font-weight="normal" font-style="normal">20</text>
<text x="285.80" y="419.22" font-size="4.6" fill="#8a8a8a" text-anchor="end" font-weight="normal" font-style="normal">10</text>
<text x="285.80" y="431.11" font-size="4.6" fill="#8a8a8a" text-anchor="end" font-weight="normal" font-style="normal">0</text>
<text x="290.90" y="436.85" font-size="4.8" fill="#8a8a8a" text-anchor="middle" font-weight="normal" font-style="normal">0</text>
<text x="330.60" y="436.85" font-size="4.8" fill="#8a8a8a" text-anchor="middle" font-weight="normal" font-style="normal">50</text>
<text x="371.20" y="436.85" font-size="4.8" fill="#8a8a8a" text-anchor="middle" font-weight="normal" font-style="normal">100</text>
<text x="411.50" y="436.85" font-size="4.8" fill="#8a8a8a" text-anchor="middle" font-weight="normal" font-style="normal">150</text>
<text x="369.30" y="445.54" font-size="6.8" fill="#777" text-anchor="middle" font-weight="normal" font-style="normal">Time (days)</text>
<text x="273.40" y="384.81" font-size="7.0" fill="#777" text-anchor="middle" font-weight="normal" font-style="normal" transform="rotate(-90 273.40 382.40)">VAF (%)</text>
<text x="332.40" y="342.36" font-size="5.7" fill="#333" text-anchor="middle" font-weight="bold" font-style="normal">SD</text>
<text x="386.30" y="342.36" font-size="5.7" fill="#333" text-anchor="middle" font-weight="bold" font-style="normal">SD</text>
<text x="436.30" y="341.96" font-size="5.7" fill="#333" text-anchor="middle" font-weight="bold" font-style="normal">PD</text>
<line x1="436.9" y1="346.2" x2="436.9" y2="429.5" stroke="#bbb" stroke-width="0.7" stroke-dasharray="0.8 1"/>
<line x1="441.2" y1="346.2" x2="441.2" y2="429.5" stroke="#d6d6d6" stroke-width="0.6"/>
<rect x="435.3" y="429.0" width="3.2" height="1.0" fill="#777"/>
<rect x="387" y="316.3" width="30" height="9.3" fill="#acd290" stroke="#3f5a2e" stroke-width="0.8"/>
<text x="401.60" y="323.26" font-size="6.0" fill="#000" text-anchor="middle" font-weight="normal" font-style="normal">84 days</text>
<line x1="370.5" y1="333.3" x2="431" y2="333.3" stroke="#edc63a" stroke-width="0.9"/>
<path d="M369.5 333.3 l2.2 -1.5 v3 z M432 333.3 l-2.2 -1.5 v3 z" fill="#edc63a"/>
<text x="445.40" y="347.88" font-size="4.6" fill="#8a8a8a" text-anchor="start" font-weight="normal" font-style="normal">8,000</text>
<text x="445.40" y="358.28" font-size="4.6" fill="#8a8a8a" text-anchor="start" font-weight="normal" font-style="normal">7,000</text>
<text x="445.40" y="368.68" font-size="4.6" fill="#8a8a8a" text-anchor="start" font-weight="normal" font-style="normal">6,000</text>
<text x="445.40" y="379.08" font-size="4.6" fill="#8a8a8a" text-anchor="start" font-weight="normal" font-style="normal">5,000</text>
<text x="445.40" y="389.48" font-size="4.6" fill="#8a8a8a" text-anchor="start" font-weight="normal" font-style="normal">4,000</text>
<text x="445.40" y="399.88" font-size="4.6" fill="#8a8a8a" text-anchor="start" font-weight="normal" font-style="normal">3,000</text>
<text x="445.40" y="410.28" font-size="4.6" fill="#8a8a8a" text-anchor="start" font-weight="normal" font-style="normal">2,000</text>
<text x="445.40" y="420.68" font-size="4.6" fill="#8a8a8a" text-anchor="start" font-weight="normal" font-style="normal">1,000</text>
<text x="445.40" y="431.08" font-size="4.6" fill="#8a8a8a" text-anchor="start" font-weight="normal" font-style="normal">0</text>
<text x="461.50" y="389.43" font-size="5.6" fill="#777" text-anchor="middle" font-weight="normal" font-style="normal" transform="rotate(-90 461.50 387.50)">U/mL</text>
<polyline points="291.10,420.80 315.20,412.40 337.50,410.90 368.40,413.50 388.60,412.90 409.30,411.90 419.80,368.80 428.80,349.20" fill="none" stroke="#c2c2c2" stroke-width="0.6" stroke-linejoin="round" opacity="1"/>
<circle cx="291.10" cy="420.80" r="1.1" fill="#a5a5a5" opacity="1"/>
<circle cx="315.20" cy="412.40" r="1.1" fill="#a5a5a5" opacity="1"/>
<circle cx="337.50" cy="410.90" r="1.1" fill="#a5a5a5" opacity="1"/>
<circle cx="368.40" cy="413.50" r="1.1" fill="#a5a5a5" opacity="1"/>
<circle cx="388.60" cy="412.90" r="1.1" fill="#a5a5a5" opacity="1"/>
<circle cx="409.30" cy="411.90" r="1.1" fill="#a5a5a5" opacity="1"/>
<circle cx="419.80" cy="368.80" r="1.1" fill="#a5a5a5" opacity="1"/>
<circle cx="428.80" cy="349.20" r="1.1" fill="#a5a5a5" opacity="1"/>
<polyline points="291.10,398.60 315.20,421.60 337.50,428.60 368.40,426.10 388.60,428.20 428.80,413.60" fill="none" stroke="#8f2e22" stroke-width="1.1" stroke-linejoin="round" opacity="1"/>
<circle cx="291.10" cy="398.60" r="1.2" fill="#8f2e22" opacity="1"/>
<circle cx="315.20" cy="421.60" r="1.2" fill="#8f2e22" opacity="1"/>
<circle cx="337.50" cy="428.60" r="1.2" fill="#8f2e22" opacity="1"/>
<circle cx="368.40" cy="426.10" r="1.2" fill="#8f2e22" opacity="1"/>
<circle cx="388.60" cy="428.20" r="1.2" fill="#8f2e22" opacity="1"/>
<circle cx="428.80" cy="413.60" r="1.2" fill="#8f2e22" opacity="1"/>
<polyline points="291.10,379.50 315.20,412.40 337.50,427.20 368.40,421.00 388.60,428.00 428.80,400.50" fill="none" stroke="#3f7cc4" stroke-width="1.0" stroke-linejoin="round" opacity="1"/>
<circle cx="291.10" cy="379.50" r="1.2" fill="#3f7cc4" opacity="1"/>
<circle cx="315.20" cy="412.40" r="1.2" fill="#3f7cc4" opacity="1"/>
<circle cx="337.50" cy="427.20" r="1.2" fill="#3f7cc4" opacity="1"/>
<circle cx="368.40" cy="421.00" r="1.2" fill="#3f7cc4" opacity="1"/>
<circle cx="388.60" cy="428.00" r="1.2" fill="#3f7cc4" opacity="1"/>
<circle cx="428.80" cy="400.50" r="1.2" fill="#3f7cc4" opacity="1"/>
<polyline points="291.10,357.00 315.20,404.50 337.50,428.40 368.40,417.10 388.60,428.00 428.80,385.20" fill="none" stroke="#e57d32" stroke-width="1.2" stroke-linejoin="round" opacity="1"/>
<circle cx="291.10" cy="357.00" r="1.3" fill="#e57d32" opacity="1"/>
<circle cx="315.20" cy="404.50" r="1.3" fill="#e57d32" opacity="1"/>
<circle cx="337.50" cy="428.40" r="1.3" fill="#e57d32" opacity="1"/>
<circle cx="368.40" cy="417.10" r="1.3" fill="#e57d32" opacity="1"/>
<circle cx="388.60" cy="428.00" r="1.3" fill="#e57d32" opacity="1"/>
<circle cx="428.80" cy="385.20" r="1.3" fill="#e57d32" opacity="1"/>
<polyline points="291.10,356.20 315.20,404.00 337.50,425.20 368.40,415.00 388.60,426.10 428.80,388.50" fill="none" stroke="#6aaa45" stroke-width="1.2" stroke-linejoin="round" opacity="1"/>
<circle cx="291.10" cy="356.20" r="1.3" fill="#6aaa45" opacity="1"/>
<circle cx="315.20" cy="404.00" r="1.3" fill="#6aaa45" opacity="1"/>
<circle cx="337.50" cy="425.20" r="1.3" fill="#6aaa45" opacity="1"/>
<circle cx="368.40" cy="415.00" r="1.3" fill="#6aaa45" opacity="1"/>
<circle cx="388.60" cy="426.10" r="1.3" fill="#6aaa45" opacity="1"/>
<circle cx="428.80" cy="388.50" r="1.3" fill="#6aaa45" opacity="1"/>
<rect x="472.3" y="365.8" width="31.5" height="7.3" fill="#d3ddf1"/>
<text x="488.00" y="371.22" font-size="5.0" fill="#333" text-anchor="middle" font-weight="bold" font-style="italic">FOLFIRINOX</text>
<line x1="472.3" y1="379.7" x2="481.5" y2="379.7" stroke="#3f7cc4" stroke-width="0.9" opacity="0.8"/>
<circle cx="476.90" cy="379.7" r="1.05" fill="#3f7cc4" opacity="0.9"/>
<text x="483.00" y="381.35" font-size="4.8" fill="#888" text-anchor="start" font-weight="normal" font-style="italic">KRAS G12D</text>
<line x1="472.3" y1="388.0" x2="481.5" y2="388.0" stroke="#e57d32" stroke-width="0.9" opacity="0.8"/>
<circle cx="476.90" cy="388.0" r="1.05" fill="#e57d32" opacity="0.9"/>
<text x="483.00" y="389.65" font-size="4.8" fill="#888" text-anchor="start" font-weight="normal" font-style="italic">TP53 R175H</text>
<line x1="472.3" y1="396.5" x2="481.5" y2="396.5" stroke="#6aaa45" stroke-width="0.9" opacity="0.8"/>
<circle cx="476.90" cy="396.5" r="1.05" fill="#6aaa45" opacity="0.9"/>
<text x="483.00" y="398.15" font-size="4.8" fill="#888" text-anchor="start" font-weight="normal" font-style="italic">CDKN2A R80X</text>
<line x1="472.3" y1="404.6" x2="481.5" y2="404.6" stroke="#8f2e22" stroke-width="0.9" opacity="0.8"/>
<circle cx="476.90" cy="404.6" r="1.05" fill="#8f2e22" opacity="0.9"/>
<text x="483.00" y="406.25" font-size="4.8" fill="#888" text-anchor="start" font-weight="normal" font-style="italic">RNF43 378up</text>
<line x1="472.3" y1="413.0" x2="481.5" y2="413.0" stroke="#b8b8b8" stroke-width="0.9" stroke-dasharray="1 0.8" opacity="0.8"/>
<circle cx="476.90" cy="413.0" r="1.05" fill="#b8b8b8" opacity="0.9"/>
<text x="483.00" y="414.65" font-size="4.8" fill="#888" text-anchor="start" font-weight="normal" font-style="normal">CA19-9</text>
<text x="0.20" y="465.31" font-size="13.4" fill="#111" text-anchor="start" font-weight="bold" font-style="normal">D</text>
<rect x="24.2" y="465" width="82" height="83.7" fill="#d9e2f3"/>
<line x1="24.2" y1="548.7" x2="181" y2="548.7" stroke="#c8c8c8" stroke-width="0.6"/>
<text x="20.20" y="466.58" font-size="4.6" fill="#8a8a8a" text-anchor="end" font-weight="normal" font-style="normal">16</text>
<text x="20.20" y="477.04" font-size="4.6" fill="#8a8a8a" text-anchor="end" font-weight="normal" font-style="normal">14</text>
<text x="20.20" y="487.50" font-size="4.6" fill="#8a8a8a" text-anchor="end" font-weight="normal" font-style="normal">12</text>
<text x="20.20" y="497.96" font-size="4.6" fill="#8a8a8a" text-anchor="end" font-weight="normal" font-style="normal">10</text>
<text x="20.20" y="508.42" font-size="4.6" fill="#8a8a8a" text-anchor="end" font-weight="normal" font-style="normal">8</text>
<text x="20.20" y="518.88" font-size="4.6" fill="#8a8a8a" text-anchor="end" font-weight="normal" font-style="normal">6</text>
<text x="20.20" y="529.34" font-size="4.6" fill="#8a8a8a" text-anchor="end" font-weight="normal" font-style="normal">4</text>
<text x="20.20" y="539.80" font-size="4.6" fill="#8a8a8a" text-anchor="end" font-weight="normal" font-style="normal">2</text>
<text x="20.20" y="550.26" font-size="4.6" fill="#8a8a8a" text-anchor="end" font-weight="normal" font-style="normal">0</text>
<text x="24.00" y="556.25" font-size="4.8" fill="#8a8a8a" text-anchor="middle" font-weight="normal" font-style="normal">0</text>
<text x="62.30" y="556.25" font-size="4.8" fill="#8a8a8a" text-anchor="middle" font-weight="normal" font-style="normal">20</text>
<text x="100.20" y="556.25" font-size="4.8" fill="#8a8a8a" text-anchor="middle" font-weight="normal" font-style="normal">40</text>
<text x="137.70" y="556.25" font-size="4.8" fill="#8a8a8a" text-anchor="middle" font-weight="normal" font-style="normal">60</text>
<text x="175.20" y="556.25" font-size="4.8" fill="#8a8a8a" text-anchor="middle" font-weight="normal" font-style="normal">80</text>
<text x="105.30" y="564.34" font-size="6.8" fill="#777" text-anchor="middle" font-weight="normal" font-style="normal">Time (days)</text>
<text x="7.60" y="509.81" font-size="7.0" fill="#777" text-anchor="middle" font-weight="normal" font-style="normal" transform="rotate(-90 7.60 507.40)">VAF (%)</text>
<text x="118.80" y="460.16" font-size="5.7" fill="#333" text-anchor="middle" font-weight="bold" font-style="normal">PD</text>
<text x="163.30" y="460.16" font-size="5.7" fill="#333" text-anchor="middle" font-weight="bold" font-style="normal">PD</text>
<line x1="120" y1="465" x2="120" y2="548.7" stroke="#bbb" stroke-width="0.7" stroke-dasharray="0.8 1"/>
<line x1="163.3" y1="465" x2="163.3" y2="548.7" stroke="#bbb" stroke-width="0.7" stroke-dasharray="0.8 1"/>
<rect x="117.5" y="548.2" width="3" height="0.9" fill="#bbb"/><rect x="161" y="548.2" width="3" height="0.9" fill="#bbb"/>
<line x1="180" y1="465" x2="180" y2="548.7" stroke="#d0d0d0" stroke-width="0.6"/>
<text x="184.20" y="466.58" font-size="4.6" fill="#8a8a8a" text-anchor="start" font-weight="normal" font-style="normal">500</text>
<text x="184.20" y="474.95" font-size="4.6" fill="#8a8a8a" text-anchor="start" font-weight="normal" font-style="normal">450</text>
<text x="184.20" y="483.32" font-size="4.6" fill="#8a8a8a" text-anchor="start" font-weight="normal" font-style="normal">400</text>
<text x="184.20" y="491.69" font-size="4.6" fill="#8a8a8a" text-anchor="start" font-weight="normal" font-style="normal">350</text>
<text x="184.20" y="500.06" font-size="4.6" fill="#8a8a8a" text-anchor="start" font-weight="normal" font-style="normal">300</text>
<text x="184.20" y="508.43" font-size="4.6" fill="#8a8a8a" text-anchor="start" font-weight="normal" font-style="normal">250</text>
<text x="184.20" y="516.80" font-size="4.6" fill="#8a8a8a" text-anchor="start" font-weight="normal" font-style="normal">200</text>
<text x="184.20" y="525.17" font-size="4.6" fill="#8a8a8a" text-anchor="start" font-weight="normal" font-style="normal">150</text>
<text x="184.20" y="533.54" font-size="4.6" fill="#8a8a8a" text-anchor="start" font-weight="normal" font-style="normal">100</text>
<text x="184.20" y="541.91" font-size="4.6" fill="#8a8a8a" text-anchor="start" font-weight="normal" font-style="normal">50</text>
<text x="184.20" y="550.28" font-size="4.6" fill="#8a8a8a" text-anchor="start" font-weight="normal" font-style="normal">0</text>
<text x="198.40" y="509.63" font-size="5.6" fill="#777" text-anchor="middle" font-weight="normal" font-style="normal" transform="rotate(-90 198.40 507.70)">U/mL</text>
<polyline points="25.50,545.30 75.40,476.20 128.80,507.50 157.00,532.50" fill="none" stroke="#b8b8b8" stroke-width="0.7" stroke-linejoin="round" opacity="1"/>
<circle cx="25.50" cy="545.30" r="1.1" fill="#b8b8b8" opacity="1"/>
<circle cx="75.40" cy="476.20" r="1.1" fill="#b8b8b8" opacity="1"/>
<circle cx="128.80" cy="507.50" r="1.1" fill="#b8b8b8" opacity="1"/>
<circle cx="157.00" cy="532.50" r="1.1" fill="#b8b8b8" opacity="1"/>
<polyline points="25.50,492.60 75.40,531.10 128.80,478.30" fill="none" stroke="#3f7cc4" stroke-width="1.0" stroke-linejoin="round" opacity="1"/>
<circle cx="25.50" cy="492.60" r="1.3" fill="#3f7cc4" opacity="1"/>
<circle cx="75.40" cy="531.10" r="1.3" fill="#3f7cc4" opacity="1"/>
<circle cx="128.80" cy="478.30" r="1.3" fill="#3f7cc4" opacity="1"/>
<polyline points="25.50,509.30 75.40,542.40 128.80,506.30" fill="none" stroke="#e57d32" stroke-width="1.2" stroke-linejoin="round" opacity="1"/>
<circle cx="25.50" cy="509.30" r="1.3" fill="#e57d32" opacity="1"/>
<circle cx="75.40" cy="542.40" r="1.3" fill="#e57d32" opacity="1"/>
<circle cx="128.80" cy="506.30" r="1.3" fill="#e57d32" opacity="1"/>
<rect x="209.8" y="492.1" width="30" height="9.2" fill="#d3ddf1"/>
<text x="224.80" y="498.42" font-size="5.0" fill="#333" text-anchor="middle" font-weight="bold" font-style="normal">FOLFIRINOX</text>
<line x1="208.3" y1="507.3" x2="221.3" y2="507.3" stroke="#3f7cc4" stroke-width="0.9" opacity="0.8"/>
<circle cx="214.80" cy="507.3" r="1.05" fill="#3f7cc4" opacity="0.9"/>
<text x="222.50" y="508.95" font-size="4.8" fill="#888" text-anchor="start" font-weight="normal" font-style="italic">KRAS G12D</text>
<line x1="208.3" y1="515.5" x2="221.3" y2="515.5" stroke="#e57d32" stroke-width="0.9" opacity="0.8"/>
<circle cx="214.80" cy="515.5" r="1.05" fill="#e57d32" opacity="0.9"/>
<text x="222.50" y="517.15" font-size="4.8" fill="#888" text-anchor="start" font-weight="normal" font-style="italic">TP53 C38Y</text>
<line x1="208.3" y1="523.8" x2="221.3" y2="523.8" stroke="#b8b8b8" stroke-width="0.9" stroke-dasharray="1 0.8" opacity="0.8"/>
<circle cx="214.80" cy="523.8" r="1.05" fill="#b8b8b8" opacity="0.9"/>
<text x="222.50" y="525.45" font-size="4.8" fill="#888" text-anchor="start" font-weight="normal" font-style="normal">CA19-9</text>
<text x="267.00" y="465.61" font-size="13.4" fill="#111" text-anchor="start" font-weight="bold" font-style="normal">E</text>
<line x1="288.8" y1="464.50" x2="451.3" y2="464.50" stroke="#ebebeb" stroke-width="0.6"/>
<line x1="288.8" y1="478.75" x2="451.3" y2="478.75" stroke="#ebebeb" stroke-width="0.6"/>
<line x1="288.8" y1="493.00" x2="451.3" y2="493.00" stroke="#ebebeb" stroke-width="0.6"/>
<line x1="288.8" y1="507.25" x2="451.3" y2="507.25" stroke="#ebebeb" stroke-width="0.6"/>
<line x1="288.8" y1="521.50" x2="451.3" y2="521.50" stroke="#ebebeb" stroke-width="0.6"/>
<line x1="288.8" y1="535.75" x2="451.3" y2="535.75" stroke="#ebebeb" stroke-width="0.6"/>
<line x1="288.8" y1="550.00" x2="451.3" y2="550.00" stroke="#ebebeb" stroke-width="0.6"/>
<rect x="288.8" y="464.6" width="130.5" height="85.4" fill="#c4dfb3"/>
<line x1="412.8" y1="464.6" x2="412.8" y2="550" stroke="#bcd5ae" stroke-width="0.6"/>
<line x1="288.8" y1="550" x2="451.3" y2="550" stroke="#c8c8c8" stroke-width="0.6"/>
<line x1="451.3" y1="464.5" x2="451.3" y2="550" stroke="#d0d0d0" stroke-width="0.6"/>
<text x="285.00" y="465.88" font-size="4.6" fill="#8a8a8a" text-anchor="end" font-weight="normal" font-style="normal">60</text>
<text x="285.00" y="480.16" font-size="4.6" fill="#8a8a8a" text-anchor="end" font-weight="normal" font-style="normal">50</text>
<text x="285.00" y="494.44" font-size="4.6" fill="#8a8a8a" text-anchor="end" font-weight="normal" font-style="normal">40</text>
<text x="285.00" y="508.72" font-size="4.6" fill="#8a8a8a" text-anchor="end" font-weight="normal" font-style="normal">30</text>
<text x="285.00" y="523.00" font-size="4.6" fill="#8a8a8a" text-anchor="end" font-weight="normal" font-style="normal">20</text>
<text x="285.00" y="537.28" font-size="4.6" fill="#8a8a8a" text-anchor="end" font-weight="normal" font-style="normal">10</text>
<text x="285.00" y="551.56" font-size="4.6" fill="#8a8a8a" text-anchor="end" font-weight="normal" font-style="normal">0</text>
<text x="289.00" y="557.55" font-size="4.8" fill="#8a8a8a" text-anchor="middle" font-weight="normal" font-style="normal">0</text>
<text x="312.05" y="557.55" font-size="4.8" fill="#8a8a8a" text-anchor="middle" font-weight="normal" font-style="normal">10</text>
<text x="335.10" y="557.55" font-size="4.8" fill="#8a8a8a" text-anchor="middle" font-weight="normal" font-style="normal">20</text>
<text x="358.15" y="557.55" font-size="4.8" fill="#8a8a8a" text-anchor="middle" font-weight="normal" font-style="normal">30</text>
<text x="381.20" y="557.55" font-size="4.8" fill="#8a8a8a" text-anchor="middle" font-weight="normal" font-style="normal">40</text>
<text x="404.25" y="557.55" font-size="4.8" fill="#8a8a8a" text-anchor="middle" font-weight="normal" font-style="normal">50</text>
<text x="427.30" y="557.55" font-size="4.8" fill="#8a8a8a" text-anchor="middle" font-weight="normal" font-style="normal">60</text>
<text x="450.35" y="557.55" font-size="4.8" fill="#8a8a8a" text-anchor="middle" font-weight="normal" font-style="normal">70</text>
<text x="373.80" y="565.94" font-size="6.8" fill="#777" text-anchor="middle" font-weight="normal" font-style="normal">Time (days)</text>
<text x="271.80" y="507.91" font-size="7.0" fill="#777" text-anchor="middle" font-weight="normal" font-style="normal" transform="rotate(-90 271.80 505.50)">VAF (%)</text>
<text x="412.00" y="460.76" font-size="5.7" fill="#333" text-anchor="middle" font-weight="bold" font-style="normal">PR</text>
<text x="455.00" y="466.08" font-size="4.6" fill="#8a8a8a" text-anchor="start" font-weight="normal" font-style="normal">1,000</text>
<text x="455.00" y="474.63" font-size="4.6" fill="#8a8a8a" text-anchor="start" font-weight="normal" font-style="normal">900</text>
<text x="455.00" y="483.18" font-size="4.6" fill="#8a8a8a" text-anchor="start" font-weight="normal" font-style="normal">800</text>
<text x="455.00" y="491.73" font-size="4.6" fill="#8a8a8a" text-anchor="start" font-weight="normal" font-style="normal">700</text>
<text x="455.00" y="500.28" font-size="4.6" fill="#8a8a8a" text-anchor="start" font-weight="normal" font-style="normal">600</text>
<text x="455.00" y="508.83" font-size="4.6" fill="#8a8a8a" text-anchor="start" font-weight="normal" font-style="normal">500</text>
<text x="455.00" y="517.38" font-size="4.6" fill="#8a8a8a" text-anchor="start" font-weight="normal" font-style="normal">400</text>
<text x="455.00" y="525.93" font-size="4.6" fill="#8a8a8a" text-anchor="start" font-weight="normal" font-style="normal">300</text>
<text x="455.00" y="534.48" font-size="4.6" fill="#8a8a8a" text-anchor="start" font-weight="normal" font-style="normal">200</text>
<text x="455.00" y="543.03" font-size="4.6" fill="#8a8a8a" text-anchor="start" font-weight="normal" font-style="normal">100</text>
<text x="455.00" y="551.58" font-size="4.6" fill="#8a8a8a" text-anchor="start" font-weight="normal" font-style="normal">0</text>
<text x="470.00" y="507.93" font-size="5.6" fill="#777" text-anchor="middle" font-weight="normal" font-style="normal" transform="rotate(-90 470.00 506.00)">U/mL</text>
<polyline points="289.40,498.80 353.50,527.00 418.60,542.30" fill="none" stroke="#b8b8b8" stroke-width="0.6" stroke-linejoin="round" stroke-dasharray="1.2 0.8" opacity="0.45"/>
<circle cx="289.4" cy="498.8" r="1.1" fill="#8fa0a8"/><circle cx="418.6" cy="542.3" r="1.1" fill="#8fa0a8"/>
<polyline points="289.40,506.30 314.00,516.50 338.20,526.60 353.20,533.60 385.00,541.20 418.60,550.00" fill="none" stroke="#3f82bc" stroke-width="0.95" stroke-linejoin="round" opacity="1"/>
<circle cx="289.4" cy="506.3" r="1.2" fill="#3f7cc4"/>
<circle cx="338.2" cy="526.6" r="1.2" fill="#3f7cc4"/>
<circle cx="418.6" cy="550" r="1.2" fill="#3f7cc4"/>
<polyline points="289.40,477.20 353.60,521.70 418.60,550.00" fill="none" stroke="#e57d32" stroke-width="1.2" stroke-linejoin="round" opacity="1"/>
<circle cx="289.40" cy="477.20" r="1.3" fill="#e57d32" opacity="1"/>
<circle cx="353.60" cy="521.70" r="1.3" fill="#e57d32" opacity="1"/>
<circle cx="418.60" cy="550.00" r="1.3" fill="#e57d32" opacity="1"/>
<rect x="474.8" y="494.4" width="46" height="8.1" fill="#dfedd4"/>
<text x="480.20" y="500.22" font-size="5.0" fill="#2a3322" text-anchor="start" font-weight="normal" font-style="normal">Gem + Nab-Pac</text>
<line x1="480.5" y1="507.5" x2="490" y2="507.5" stroke="#3f7cc4" stroke-width="0.9" opacity="0.8"/>
<circle cx="485.25" cy="507.5" r="1.05" fill="#3f7cc4" opacity="0.9"/>
<text x="491.10" y="509.15" font-size="4.8" fill="#888" text-anchor="start" font-weight="normal" font-style="italic">KRAS G12D</text>
<line x1="480.5" y1="515.2" x2="490" y2="515.2" stroke="#e57d32" stroke-width="0.9" opacity="0.8"/>
<circle cx="485.25" cy="515.2" r="1.05" fill="#e57d32" opacity="0.9"/>
<text x="491.10" y="516.85" font-size="4.8" fill="#888" text-anchor="start" font-weight="normal" font-style="italic">TP53 R196X</text>
<line x1="480.5" y1="523.6" x2="490" y2="523.6" stroke="#b8b8b8" stroke-width="0.9" stroke-dasharray="1 0.8" opacity="0.8"/>
<circle cx="485.25" cy="523.6" r="1.05" fill="#b8b8b8" opacity="0.9"/>
<text x="491.10" y="525.25" font-size="4.8" fill="#888" text-anchor="start" font-weight="normal" font-style="normal">CA19-9</text>
</svg>
</body></html>
